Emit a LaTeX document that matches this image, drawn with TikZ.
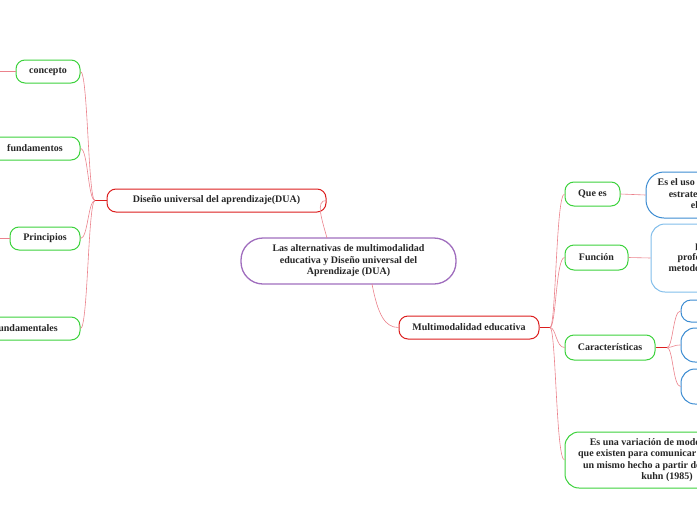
\documentclass[tikz,border=0pt]{standalone}
\usepackage{fontspec}
\setmainfont{Liberation Serif}
\definecolor{gr}{RGB}{60,210,60}
\definecolor{rd}{RGB}{220,30,30}
\definecolor{pk}{RGB}{235,130,140}
\definecolor{bl}{RGB}{60,140,210}
\definecolor{lbl}{RGB}{130,190,235}
\definecolor{vi}{RGB}{160,110,190}
\begin{document}
\begin{tikzpicture}[x=1pt,y=-1pt,
  every node/.style={font=\bfseries\fontsize{10}{11.5}\selectfont,align=center,inner sep=0pt,text=black!85},
  box/.style={draw,line width=1pt,fill=white,rounded corners=9pt},
  gbox/.style={box,draw=gr},
  rbox/.style={box,draw=rd},
  bbox/.style={box,draw=bl,rounded corners=12pt},
  lbbox/.style={box,draw=lbl,rounded corners=14pt},
  con/.style={draw=pk,line width=0.6pt}]
\useasboundingbox (0,0) rectangle (697,520);
\begin{scope}
\clip (0,0) rectangle (697,520);
\coordinate (l1) at (0,71.5); \coordinate (l3) at (0,238.5);
\coordinate (cxl) at (88,0); \coordinate (cxr) at (556,0); \coordinate (cxb) at (673,0);
\node[box,draw=vi,line width=1.3pt,minimum width=215,minimum height=46,rounded corners=22pt] (root) at (348.5,261) {Las alternativas de multimodalidad\\educativa y Diseño universal del\\Aprendizaje (DUA)};
\node[rbox,minimum width=219,minimum height=23] (dua) at (216.5,200.5) {Diseño universal del aprendizaje(DUA)};
\node[rbox,minimum width=140,minimum height=23] (mm) at (469,327.5) {Multimodalidad educativa};
\node[gbox,minimum width=64,minimum height=23] (c1) at (48,71.5) {concepto};
\node[gbox,minimum width=90,minimum height=23] (c2) at (35,148.5) {fundamentos};
\node[gbox,minimum width=70,minimum height=23] (c3) at (45,238.5) {Principios};
\node[gbox,minimum width=120,minimum height=23] (c4) at (20,328.5) {\hspace*{10pt}Fundamentales};
\node[gbox,minimum width=55,minimum height=24] (r1) at (592.5,194) {Que es};
\node[gbox,minimum width=63,minimum height=25] (r2) at (596.5,257.5) {Función};
\node[gbox,minimum width=90,minimum height=25] (r3) at (610,347.5) {Características};
\node[gbox,minimum width=240,minimum height=56,rounded corners=14pt] (r4) at (685,460) {};
\node (r4t) at (667,460) {Es una variación de modos y medios\\que existen para comunicar y representar\\un mismo hecho a partir de la teoría de\\kuhn (1985)};
\node[bbox,minimum width=150,minimum height=46,rounded corners=18pt] (b1) at (721,195) {Es el uso de diferentes medios\\estrategias para facilitar\\el aprendizaje};
\node[lbbox,minimum width=150,minimum height=68] (b2) at (726,258) {permite que el\\profesor use diferentes\\metodologías de enseñanza};
\node[bbox,minimum width=120,minimum height=22,rounded corners=10pt] (b3) at (741,311) {Interactiva};
\node[bbox,minimum width=120,minimum height=34,rounded corners=14pt] (b4) at (741,345) {};
\node[bbox,minimum width=120,minimum height=35,rounded corners=14pt] (b5) at (741,386.5) {};
\draw[con] (c1.west) -- (l1);
\draw[con] (c3.west) -- (l3);
\draw[con] (dua.east) .. controls (315,200) and (322,220) .. (327,238);
\draw[con] (372,284) .. controls (378,315) and (385,327.5) .. (mm.west);
\draw[con,draw=rd] (dua.west) -- (95,200.5) coordinate (dj);
\foreach \n in {c1,c2,c3,c4}{\draw[con] (dj) .. controls (88,200.5) and (\n.east -| cxl) .. (\n.east);}
\draw[con,draw=rd] (mm.east) -- (550,327.5) coordinate (mj);
\foreach \n in {r1,r2,r3,r4}{\draw[con] (mj) .. controls (556,327.5) and (\n.west -| cxr) .. (\n.west);}
\draw[con] (r1.east) -- (b1.west);
\draw[con] (r2.east) -- (b2.west);
\draw[con,draw=rd] (r3.east) -- (667,347.5) coordinate (cj);
\foreach \n in {b3,b4,b5}{\draw[con] (cj) .. controls (673,347.5) and (\n.west -| cxb) .. (\n.west);}
\end{scope}
\end{tikzpicture}
\end{document}
